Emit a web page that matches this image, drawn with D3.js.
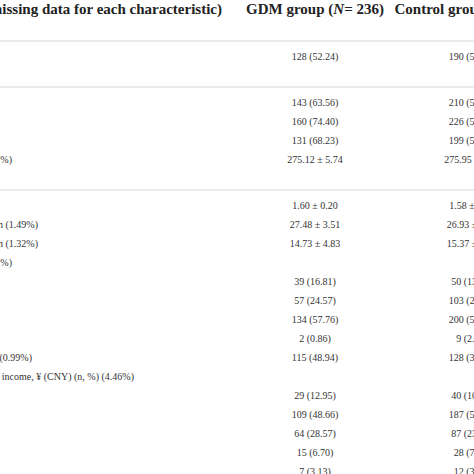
<!DOCTYPE html>
<html><head><meta charset="utf-8">
<script src="https://cdn.jsdelivr.net/npm/d3@7"></script>
<style>body{margin:0;background:#fff}svg{display:block}</style>
</head><body>
<script>
// table content, row by row
var headers = ['Characteristics (percentage of missing data for each characteristic)', 'GDM group (N= 236)', 'Control group (N= 380)'];
var labels = ['Primipara (n, %)', '', '', '', 'Gestational age at delivery, days (0.32%)', '', 'Pre-pregnancy weight, kg/m (1.49%)', 'Pre-pregnancy weight gain, kg/m (1.32%)', 'Education level (n, %) (0.32%)', '', '', '', '', 'Employment (n, %) (0.99%)', 'Monthly household income, ¥ (CNY) (n, %) (4.46%)', '', '', '', '', ''];
var gdm = ['128 (52.24)', '143 (63.56)', '160 (74.40)', '131 (68.23)', '275.12 ± 5.74', '1.60 ± 0.20', '27.48 ± 3.51', '14.73 ± 4.83', '', '39 (16.81)', '57 (24.57)', '134 (57.76)', '2 (0.86)', '115 (48.94)', '', '29 (12.95)', '109 (48.66)', '64 (28.57)', '15 (6.70)', '7 (3.13)'];
var control = ['190 (50.00)', '210 (55.26)', '226 (59.47)', '199 (52.37)', '275.95 ± 5.12', '1.58 ± 0.05', '26.93 ± 3.40', '15.37 ± 4.90', '', '50 (13.16)', '103 (27.11)', '200 (52.63)', '9 (2.37)', '128 (33.68)', '', '40 (10.87)', '187 (50.82)', '87 (23.64)', '28 (7.61)', '12 (3.26)'];
var rowY = [56, 102, 121, 140, 159, 205, 224, 243, 262, 281, 300, 319, 338, 357, 376, 395, 414, 433, 452, 471];
var labelEnd = [0, 0, 0, 0, 12, 0, 38, 38, 12, 0, 0, 0, 0, 32, 134, 0, 0, 0, 0, 0];
var ruleY = [41, 87, 190];

var W = 474, H = 474;
var svg = d3.select('body').append('svg').attr('width', W).attr('height', H);
var font = '"Liberation Serif","DejaVu Serif",serif';

svg.selectAll('line.rule').data(ruleY).enter().append('line')
  .attr('x1', 0).attr('x2', W).attr('y1', function (d) { return d; }).attr('y2', function (d) { return d; })
  .attr('stroke', '#d8d8d8').attr('stroke-width', 1.2);

var hx = [222, 315, 470];
var hAnchor = ['end', 'middle', 'middle'];
svg.selectAll('text.head').data(headers).enter().append('text')
  .attr('x', function (d, i) { return hx[i]; }).attr('y', 14)
  .attr('text-anchor', function (d, i) { return hAnchor[i]; })
  .attr('font-family', font).attr('font-weight', 'bold').attr('font-size', 15).attr('fill', '#222')
  .each(function (d) {
    var m = d.match(/^(.*\()N(=.*)$/);
    var t = d3.select(this);
    if (m) {
      t.append('tspan').text(m[1]);
      t.append('tspan').attr('font-style', 'italic').text('N');
      t.append('tspan').text(m[2]);
    } else t.text(d);
  });

function col(data, x, anchor, cls) {
  svg.selectAll('text.' + cls).data(data).enter().append('text')
    .attr('x', x).attr('y', function (d, i) { return rowY[i] + 4; })
    .attr('text-anchor', anchor)
    .attr('font-family', font).attr('font-size', 10).attr('fill', '#333')
    .text(function (d) { return d; });
}
col(labels.map(function (d, i) { return labelEnd[i] ? d : ''; }), function (d, i) { return labelEnd[i]; }, 'end', 'lab');
col(gdm, 315, 'middle', 'gdm');
col(control, 472, 'middle', 'ctl');
</script>
</body></html>
